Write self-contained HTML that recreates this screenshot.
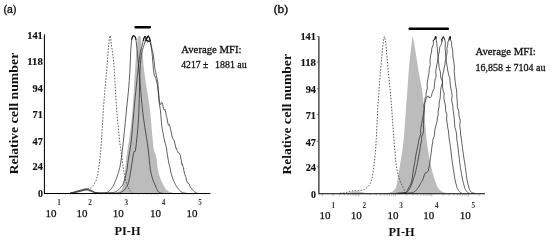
<!DOCTYPE html>
<html><head><meta charset="utf-8"><title>Figure</title>
<style>
html,body{margin:0;padding:0;background:#fff;}
svg{display:block;filter:blur(0.35px);}
text{font-family:"Liberation Serif",serif;fill:#111;}
.yl{font-size:10.8px;font-weight:bold;stroke:#111;stroke-width:0.15px;}
.yt{font-size:13.5px;font-weight:bold;}
.xl{font-size:11px;stroke:#111;stroke-width:0.25px;}
.xe{font-size:7.2px;font-weight:bold;fill:#333;}
.xt{font-size:12px;font-weight:bold;}
.an{font-size:10.8px;stroke:#111;stroke-width:0.3px;}
.lb{font-family:"Liberation Sans",sans-serif;font-size:10.4px;stroke:#111;stroke-width:0.35px;}
</style></head>
<body>
<svg width="550" height="241" viewBox="0 0 550 241">
<rect width="550" height="241" fill="#fff"/>
<path d="M108.0,193.4 L108.5,193.4 L109.0,193.4 L109.5,193.4 L110.0,193.3 L110.5,193.3 L111.0,193.3 L111.5,193.2 L112.0,193.2 L112.5,193.2 L113.0,193.1 L113.5,193.0 L114.0,193.0 L114.5,192.9 L115.1,192.8 L115.6,192.7 L116.1,192.6 L116.6,192.5 L117.1,192.3 L117.6,192.2 L118.1,192.0 L118.6,191.7 L119.1,191.4 L119.6,191.1 L120.1,190.7 L120.6,190.5 L121.1,190.3 L121.6,190.1 L122.1,189.2 L122.6,187.0 L123.1,184.3 L123.6,181.6 L124.1,178.3 L124.6,174.7 L125.1,170.6 L125.6,165.6 L126.1,160.2 L126.6,155.5 L127.1,152.2 L127.6,149.0 L128.1,145.6 L128.7,142.2 L129.2,138.8 L129.7,135.2 L130.2,131.4 L130.7,127.4 L131.2,123.1 L131.7,118.5 L132.2,113.5 L132.7,107.8 L133.2,100.5 L133.7,92.0 L134.2,83.1 L134.7,74.6 L135.2,67.2 L135.7,60.1 L136.2,53.5 L136.7,47.8 L137.2,43.0 L137.7,38.5 L138.2,36.1 L138.7,36.0 L139.2,36.0 L139.7,36.0 L140.2,36.0 L140.7,37.6 L141.2,41.8 L141.7,46.4 L142.3,51.3 L142.8,56.9 L143.3,62.6 L143.8,67.9 L144.3,72.2 L144.8,76.0 L145.3,79.6 L145.8,82.9 L146.3,86.0 L146.8,89.0 L147.3,91.9 L147.8,94.9 L148.3,98.0 L148.8,101.2 L149.3,104.7 L149.8,108.5 L150.3,112.7 L150.8,118.0 L151.3,123.8 L151.8,129.9 L152.3,135.9 L152.8,141.3 L153.3,145.9 L153.8,149.2 L154.3,151.2 L154.8,152.4 L155.3,153.6 L155.9,155.2 L156.4,158.0 L156.9,161.8 L157.4,165.8 L157.9,169.4 L158.4,172.0 L158.9,173.9 L159.4,175.6 L159.9,177.1 L160.4,178.5 L160.9,179.8 L161.4,181.0 L161.9,182.1 L162.4,183.1 L162.9,184.1 L163.4,185.1 L163.9,186.1 L164.4,187.0 L164.9,187.8 L165.4,188.6 L165.9,189.2 L166.4,189.8 L166.9,190.2 L167.4,190.5 L167.9,190.9 L168.4,191.2 L168.9,191.4 L169.5,191.7 L170.0,191.9 L170.5,192.1 L171.0,192.3 L171.5,192.4 L172.0,192.6 L172.5,192.7 L173.0,192.9 L173.5,193.0 L174.0,193.1 L174.5,193.2 L175.0,193.3 L175.5,193.4 L176.0,193.4Z" fill="#bcbcbc" stroke="none"/>
<path d="M70.0,193.3 L70.5,193.2 L71.0,193.1 L71.5,193.1 L72.0,193.0 L72.5,192.9 L73.0,192.8 L73.5,192.7 L74.0,192.6 L74.5,192.5 L75.0,192.4 L75.5,192.3 L76.0,192.2 L76.6,192.1 L77.1,191.9 L77.6,191.8 L78.1,191.7 L78.6,191.5 L79.1,191.4 L79.6,191.2 L80.1,191.1 L80.6,190.9 L81.1,190.7 L81.6,190.6 L82.1,190.4 L82.6,190.2 L83.1,190.1 L83.6,189.9 L84.1,189.8 L84.6,189.6 L85.1,189.5 L85.6,189.4 L86.1,189.2 L86.6,189.1 L87.1,189.0 L87.6,188.9 L88.1,188.8 L88.6,188.7 L89.2,188.5 L89.7,188.4 L90.2,188.2 L90.7,187.9 L91.2,187.5 L91.7,187.1 L92.2,186.6 L92.7,186.0 L93.2,185.4 L93.7,184.6 L94.2,183.8 L94.7,183.0 L95.2,182.2 L95.7,181.2 L96.2,180.1 L96.7,178.8 L97.2,177.0 L97.7,174.3 L98.2,171.2 L98.7,167.9 L99.2,164.3 L99.7,160.2 L100.2,155.7 L100.7,150.6 L101.2,144.2 L101.8,136.1 L102.3,127.1 L102.8,118.3 L103.3,110.5 L103.8,103.8 L104.3,97.6 L104.8,91.8 L105.3,86.1 L105.8,80.5 L106.3,74.8 L106.8,68.9 L107.3,62.5 L107.8,56.0 L108.3,50.0 L108.8,44.9 L109.3,39.8 L109.8,36.0 L110.3,35.7 L110.8,39.1 L111.3,43.8 L111.8,47.6 L112.3,50.9 L112.8,54.3 L113.3,58.5 L113.9,64.6 L114.4,72.4 L114.9,80.6 L115.4,89.3 L115.9,97.8 L116.4,105.6 L116.9,112.1 L117.4,118.1 L117.9,123.8 L118.4,129.2 L118.9,134.3 L119.4,139.0 L119.9,143.3 L120.4,147.2 L120.9,150.7 L121.4,153.3 L121.9,156.6 L122.4,161.0 L122.9,165.6 L123.4,169.1 L123.9,171.9 L124.4,174.5 L124.9,176.8 L125.4,178.9 L125.9,180.8 L126.5,182.5 L127.0,184.1 L127.5,185.5 L128.0,186.8 L128.5,188.0 L129.0,189.1 L129.5,190.0 L130.0,190.8 L130.5,191.4 L131.0,192.0 L131.5,192.5 L132.0,192.9 L132.5,193.2" fill="none" stroke="#444" stroke-width="0.9" stroke-dasharray="1.5 1.5"/>
<path d="M70.0,193.3 L70.5,193.2 L71.0,193.1 L71.5,193.0 L72.0,193.0 L72.5,192.9 L73.0,192.8 L73.5,192.7 L74.0,192.6 L74.5,192.5 L75.0,192.4 L75.5,192.3 L76.0,192.2 L76.5,192.2 L77.0,192.1 L77.5,192.0 L78.0,191.9 L78.5,191.8 L79.0,191.7 L79.6,191.6 L80.1,191.5 L80.6,191.3 L81.1,191.2 L81.6,191.1 L82.1,190.9 L82.6,190.8 L83.1,190.7 L83.6,190.6 L84.1,190.5 L84.6,190.4 L85.1,190.3 L85.6,190.2 L86.1,190.2 L86.6,190.2 L87.1,190.2 L87.6,190.3 L88.1,190.4 L88.6,190.6 L89.1,190.7 L89.6,190.9 L90.1,191.1 L90.6,191.3 L91.1,191.4 L91.6,191.6 L92.1,191.8 L92.6,192.0 L93.1,192.2 L93.6,192.4 L94.1,192.6 L94.6,192.7 L95.1,192.8 L95.6,192.9 L96.1,192.9 L96.6,193.0 L97.1,193.0 L97.6,193.1 L98.2,193.1 L98.7,193.1 L99.2,193.1 L99.7,193.1 L100.2,193.1 L100.7,193.1 L101.2,193.1 L101.7,193.1 L102.2,193.1 L102.7,193.0 L103.2,193.0 L103.7,193.0 L104.2,193.0 L104.7,192.9 L105.2,192.9 L105.7,192.9 L106.2,192.8 L106.7,192.6 L107.2,192.4 L107.7,192.1 L108.2,191.8 L108.7,191.4 L109.2,191.1 L109.7,190.6 L110.2,190.1 L110.7,189.5 L111.2,188.8 L111.7,188.1 L112.2,187.4 L112.7,186.6 L113.2,185.8 L113.7,184.9 L114.2,183.8 L114.7,182.8 L115.2,181.6 L115.7,180.4 L116.2,179.1 L116.8,177.6 L117.3,176.1 L117.8,174.5 L118.3,172.8 L118.8,171.1 L119.3,169.5 L119.8,167.5 L120.3,165.1 L120.8,161.9 L121.3,158.2 L121.8,154.4 L122.3,150.4 L122.8,146.1 L123.3,141.7 L123.8,137.1 L124.3,132.3 L124.8,127.4 L125.3,122.3 L125.8,117.2 L126.3,112.0 L126.8,106.9 L127.3,102.1 L127.8,97.3 L128.3,92.3 L128.8,86.7 L129.3,80.4 L129.8,72.9 L130.3,62.0 L130.8,49.6 L131.3,43.3 L131.8,39.2 L132.3,37.4 L132.8,36.2 L133.3,35.8 L133.8,35.9 L134.3,36.2 L134.8,36.6 L135.4,37.3 L135.9,39.3 L136.4,43.0 L136.9,48.2 L137.4,53.6 L137.9,58.5 L138.4,63.5 L138.9,68.6 L139.4,74.1 L139.9,80.0 L140.4,86.2 L140.9,92.4 L141.4,98.4 L141.9,104.0 L142.4,109.0 L142.9,113.3 L143.4,117.3 L143.9,120.9 L144.4,124.3 L144.9,127.6 L145.4,130.7 L145.9,133.8 L146.4,137.0 L146.9,140.2 L147.4,143.5 L147.9,147.1 L148.4,151.0 L148.9,155.6 L149.4,160.6 L149.9,165.4 L150.4,169.5 L150.9,172.3 L151.4,174.6 L151.9,176.5 L152.4,178.3 L152.9,179.8 L153.4,181.2 L154.0,182.5 L154.5,183.7 L155.0,184.9 L155.5,186.1 L156.0,187.2 L156.5,188.4 L157.0,189.5 L157.5,190.5 L158.0,191.3 L158.5,192.0 L159.0,192.4 L159.5,192.6 L160.0,192.8 L160.5,192.9 L161.0,193.1 L161.5,193.2 L162.0,193.2 L162.5,193.3 L163.0,193.3" fill="none" stroke="#2a2a2a" stroke-width="0.75" stroke-linejoin="round"/>
<path d="M70.0,193.3 L70.5,193.2 L71.0,193.0 L71.5,192.9 L72.0,192.8 L72.5,192.6 L73.0,192.5 L73.5,192.4 L74.0,192.3 L74.5,192.2 L75.0,192.0 L75.5,191.9 L76.0,191.8 L76.5,191.7 L77.0,191.6 L77.5,191.4 L78.0,191.3 L78.5,191.2 L79.0,191.1 L79.5,191.0 L80.0,190.8 L80.5,190.7 L81.0,190.5 L81.5,190.4 L82.1,190.2 L82.6,190.1 L83.1,189.9 L83.6,189.8 L84.1,189.7 L84.6,189.6 L85.1,189.5 L85.6,189.4 L86.1,189.4 L86.6,189.4 L87.1,189.4 L87.6,189.5 L88.1,189.7 L88.6,189.8 L89.1,190.0 L89.6,190.2 L90.1,190.4 L90.6,190.6 L91.1,190.8 L91.6,191.0 L92.1,191.3 L92.6,191.5 L93.1,191.8 L93.6,192.0 L94.1,192.2 L94.6,192.4 L95.1,192.5 L95.6,192.6 L96.1,192.7 L96.6,192.8 L97.1,192.8 L97.6,192.9 L98.1,192.9 L98.6,193.0 L99.1,193.0 L99.6,193.1 L100.1,193.1 L100.6,193.1 L101.1,193.1 L101.6,193.1 L102.1,193.1 L102.6,193.1 L103.1,193.1 L103.6,193.1 L104.1,193.1 L104.6,193.1 L105.2,193.0 L105.7,193.0 L106.2,193.0 L106.7,193.0 L107.2,193.0 L107.7,193.0 L108.2,193.0 L108.7,192.9 L109.2,192.9 L109.7,192.9 L110.2,192.8 L110.7,192.8 L111.2,192.8 L111.7,192.7 L112.2,192.6 L112.7,192.6 L113.2,192.5 L113.7,192.4 L114.2,192.3 L114.7,192.1 L115.2,191.9 L115.7,191.7 L116.2,191.4 L116.7,191.1 L117.2,190.8 L117.7,190.4 L118.2,190.1 L118.7,189.7 L119.2,189.2 L119.7,188.7 L120.2,188.2 L120.7,187.5 L121.2,186.7 L121.7,186.4 L122.2,185.7 L122.7,185.0 L123.2,183.6 L123.7,182.3 L124.2,180.8 L124.7,179.3 L125.2,177.6 L125.7,175.6 L126.2,173.5 L126.7,171.2 L127.2,168.1 L127.7,164.0 L128.2,160.6 L128.8,156.6 L129.3,153.7 L129.8,150.8 L130.3,148.0 L130.8,144.4 L131.3,139.9 L131.8,135.2 L132.3,129.8 L132.8,123.6 L133.3,118.0 L133.8,111.8 L134.3,107.0 L134.8,101.3 L135.3,96.4 L135.8,91.4 L136.3,86.4 L136.8,82.0 L137.3,76.4 L137.8,72.0 L138.3,67.3 L138.8,63.4 L139.3,59.2 L139.8,55.9 L140.3,52.7 L140.8,50.0 L141.3,48.4 L141.8,46.6 L142.3,45.1 L142.8,42.3 L143.3,40.3 L143.8,38.6 L144.3,37.5 L144.8,36.6 L145.3,36.6 L145.8,37.3 L146.3,38.6 L146.8,40.4 L147.3,42.2 L147.8,42.1 L148.3,41.9 L148.8,41.3 L149.3,41.0 L149.8,41.7 L150.3,43.2 L150.8,45.4 L151.3,47.8 L151.8,50.9 L152.4,56.4 L152.9,62.8 L153.4,69.5 L153.9,73.0 L154.4,75.8 L154.9,75.9 L155.4,77.4 L155.9,78.7 L156.4,80.9 L156.9,82.6 L157.4,85.2 L157.9,89.1 L158.4,94.0 L158.9,99.1 L159.4,103.6 L159.9,107.1 L160.4,110.3 L160.9,115.7 L161.4,122.3 L161.9,127.0 L162.4,129.7 L162.9,132.3 L163.4,134.7 L163.9,137.6 L164.4,140.1 L164.9,142.2 L165.4,143.8 L165.9,145.6 L166.4,147.6 L166.9,151.3 L167.4,154.7 L167.9,158.0 L168.4,160.6 L168.9,163.2 L169.4,165.4 L169.9,167.6 L170.4,169.9 L170.9,172.4 L171.4,174.5 L171.9,176.0 L172.4,177.5 L172.9,179.0 L173.4,180.4 L173.9,181.5 L174.4,182.3 L174.9,183.5 L175.5,184.5 L176.0,185.5 L176.5,186.2 L177.0,187.1 L177.5,187.9 L178.0,188.6 L178.5,189.2 L179.0,189.7 L179.5,190.3 L180.0,190.8 L180.5,191.2 L181.0,191.7 L181.5,192.0 L182.0,192.3 L182.5,192.5 L183.0,192.6 L183.5,192.8 L184.0,192.9 L184.5,193.0 L185.0,193.1 L185.5,193.2 L186.0,193.2 L186.5,193.3 L187.0,193.3" fill="none" stroke="#2a2a2a" stroke-width="0.75" stroke-linejoin="round"/>
<path d="M70.0,193.3 L70.5,193.1 L71.0,193.0 L71.5,192.8 L72.0,192.7 L72.5,192.5 L73.0,192.4 L73.5,192.2 L74.0,192.0 L74.5,191.9 L75.0,191.7 L75.5,191.6 L76.0,191.4 L76.5,191.2 L77.0,191.1 L77.5,190.9 L78.0,190.8 L78.5,190.6 L79.0,190.5 L79.5,190.4 L80.0,190.2 L80.5,190.1 L81.0,189.9 L81.5,189.8 L82.0,189.6 L82.5,189.5 L83.1,189.3 L83.6,189.2 L84.1,189.1 L84.6,189.0 L85.1,188.9 L85.6,188.8 L86.1,188.8 L86.6,188.8 L87.1,188.8 L87.6,188.9 L88.1,189.1 L88.6,189.3 L89.1,189.5 L89.6,189.7 L90.1,189.9 L90.6,190.1 L91.1,190.3 L91.6,190.6 L92.1,190.8 L92.6,191.1 L93.1,191.4 L93.6,191.7 L94.1,192.0 L94.6,192.2 L95.1,192.3 L95.6,192.4 L96.1,192.5 L96.6,192.6 L97.1,192.7 L97.6,192.8 L98.1,192.9 L98.6,192.9 L99.1,193.0 L99.6,193.0 L100.1,193.1 L100.6,193.1 L101.1,193.1 L101.6,193.1 L102.1,193.1 L102.6,193.1 L103.1,193.1 L103.6,193.1 L104.1,193.1 L104.6,193.1 L105.1,193.1 L105.6,193.1 L106.1,193.1 L106.6,193.1 L107.1,193.1 L107.6,193.1 L108.1,193.1 L108.7,193.1 L109.2,193.1 L109.7,193.1 L110.2,193.1 L110.7,193.1 L111.2,193.1 L111.7,193.1 L112.2,193.1 L112.7,193.1 L113.2,193.1 L113.7,193.1 L114.2,193.1 L114.7,193.1 L115.2,193.1 L115.7,193.1 L116.2,193.1 L116.7,193.1 L117.2,193.0 L117.7,193.0 L118.2,193.0 L118.7,193.0 L119.2,193.0 L119.7,192.9 L120.2,192.7 L120.7,192.5 L121.2,192.3 L121.7,191.9 L122.2,191.6 L122.7,191.2 L123.2,190.9 L123.7,190.5 L124.2,190.0 L124.7,189.5 L125.2,188.9 L125.7,188.2 L126.2,187.3 L126.7,186.7 L127.2,185.8 L127.7,185.1 L128.2,183.2 L128.7,181.7 L129.2,179.2 L129.7,177.5 L130.2,174.0 L130.7,170.9 L131.2,167.8 L131.7,164.7 L132.2,161.8 L132.7,158.3 L133.2,154.9 L133.7,152.7 L134.3,151.2 L134.8,151.7 L135.3,150.8 L135.8,148.0 L136.3,143.7 L136.8,138.8 L137.3,134.1 L137.8,128.6 L138.3,121.9 L138.8,112.8 L139.3,98.4 L139.8,75.2 L140.3,64.3 L140.8,59.5 L141.3,55.4 L141.8,53.1 L142.3,50.4 L142.8,49.0 L143.3,47.4 L143.8,45.8 L144.3,44.0 L144.8,42.8 L145.3,40.8 L145.8,40.1 L146.3,38.7 L146.8,38.4 L147.3,37.2 L147.8,36.3 L148.3,36.0 L148.8,37.1 L149.3,37.5 L149.8,39.3 L150.3,40.8 L150.8,42.5 L151.3,45.8 L151.8,48.2 L152.3,50.4 L152.8,52.2 L153.3,54.4 L153.8,59.2 L154.3,63.1 L154.8,67.7 L155.3,70.7 L155.8,72.5 L156.3,75.7 L156.8,77.3 L157.3,79.5 L157.8,82.6 L158.3,88.9 L158.8,95.2 L159.3,101.2 L159.9,104.0 L160.4,104.6 L160.9,104.1 L161.4,102.6 L161.9,103.1 L162.4,103.0 L162.9,105.9 L163.4,108.2 L163.9,109.6 L164.4,109.9 L164.9,109.2 L165.4,111.0 L165.9,113.2 L166.4,116.6 L166.9,117.6 L167.4,120.8 L167.9,123.1 L168.4,125.3 L168.9,124.6 L169.4,124.7 L169.9,126.5 L170.4,128.5 L170.9,130.8 L171.4,133.0 L171.9,135.8 L172.4,137.9 L172.9,138.8 L173.4,139.6 L173.9,139.9 L174.4,141.1 L174.9,143.8 L175.4,145.2 L175.9,148.6 L176.4,148.2 L176.9,150.0 L177.4,150.6 L177.9,151.9 L178.4,152.9 L178.9,152.8 L179.4,153.4 L179.9,154.2 L180.4,155.4 L180.9,158.7 L181.4,160.9 L181.9,164.6 L182.4,164.2 L182.9,166.4 L183.4,167.6 L183.9,170.7 L184.4,173.0 L184.9,174.7 L185.5,176.4 L186.0,177.6 L186.5,180.1 L187.0,181.6 L187.5,182.8 L188.0,182.6 L188.5,183.6 L189.0,183.9 L189.5,184.8 L190.0,186.3 L190.5,187.7 L191.0,188.5 L191.5,188.8 L192.0,188.7 L192.5,189.4 L193.0,190.1 L193.5,190.8 L194.0,191.4 L194.5,191.8 L195.0,192.1 L195.5,192.4 L196.0,192.7 L196.5,192.9 L197.0,193.1 L197.5,193.3 L198.0,193.3" fill="none" stroke="#2a2a2a" stroke-width="0.75" stroke-linejoin="round"/>
<path d="M131.8,39.2 L132.3,37.4 L132.8,36.2 L133.3,35.8 L133.8,35.9 L134.3,36.2 L134.8,36.6 L135.4,37.3 L135.9,39.3" fill="none" stroke="#1a1a1a" stroke-width="1.25" stroke-linejoin="round" stroke-linecap="round"/>
<path d="M143.3,40.3 L143.8,38.6 L144.3,37.5 L144.8,36.6 L145.3,36.6 L145.8,37.3 L146.3,38.6 L146.8,40.4 L148.8,41.3 L149.3,41.0" fill="none" stroke="#1a1a1a" stroke-width="1.25" stroke-linejoin="round" stroke-linecap="round"/>
<path d="M145.3,40.8 L145.8,40.1 L146.3,38.7 L146.8,38.4 L147.3,37.2 L147.8,36.3 L148.3,36.0 L148.8,37.1 L149.3,37.5 L149.8,39.3 L150.3,40.8" fill="none" stroke="#1a1a1a" stroke-width="1.25" stroke-linejoin="round" stroke-linecap="round"/>
<path d="M44.4,34.4 V193.4 H210.4" fill="none" stroke="#000" stroke-width="1.05"/>
<path d="M47.8,193.9 v2.2 M58.8,193.9 v1.5 M65.2,193.9 v1.5 M69.8,193.9 v1.5 M73.3,193.9 v1.5 M76.2,193.9 v1.5 M78.6,193.9 v1.5 M80.8,193.9 v1.5 M82.6,193.9 v1.5 M84.3,193.9 v2.2 M95.3,193.9 v1.5 M101.7,193.9 v1.5 M106.3,193.9 v1.5 M109.8,193.9 v1.5 M112.7,193.9 v1.5 M115.1,193.9 v1.5 M117.3,193.9 v1.5 M119.1,193.9 v1.5 M120.8,193.9 v2.2 M131.8,193.9 v1.5 M138.2,193.9 v1.5 M142.8,193.9 v1.5 M146.3,193.9 v1.5 M149.2,193.9 v1.5 M151.6,193.9 v1.5 M153.8,193.9 v1.5 M155.6,193.9 v1.5 M157.3,193.9 v2.2 M168.3,193.9 v1.5 M174.7,193.9 v1.5 M179.3,193.9 v1.5 M182.8,193.9 v1.5 M185.7,193.9 v1.5 M188.1,193.9 v1.5 M190.3,193.9 v1.5 M192.1,193.9 v1.5 M193.8,193.9 v2.2 M204.8,193.9 v1.5" stroke="#bbb" stroke-width="0.5" fill="none"/>
<rect x="134.4" y="25.9" width="16.599999999999994" height="2.6" rx="1" fill="#000"/>
<text x="27.2" y="38.9" textLength="15.6" lengthAdjust="spacingAndGlyphs" class="yl">141</text>
<text x="27.2" y="64.7" textLength="15.6" lengthAdjust="spacingAndGlyphs" class="yl">118</text>
<text x="32.6" y="91.7" textLength="10.3" lengthAdjust="spacingAndGlyphs" class="yl">94</text>
<text x="32.6" y="117.5" textLength="10.3" lengthAdjust="spacingAndGlyphs" class="yl">71</text>
<text x="32.6" y="144.5" textLength="10.3" lengthAdjust="spacingAndGlyphs" class="yl">47</text>
<text x="32.6" y="170.3" textLength="10.3" lengthAdjust="spacingAndGlyphs" class="yl">24</text>
<text x="38.0" y="197.3" textLength="4.9" lengthAdjust="spacingAndGlyphs" class="yl">0</text>
<text transform="translate(18.0,174.3) rotate(-90)" class="yt"><tspan x="0.0" textLength="47.4" lengthAdjust="spacingAndGlyphs">Relative</tspan><tspan x="50.7" textLength="20.9" lengthAdjust="spacingAndGlyphs">cell</tspan><tspan x="74.8" textLength="46.8" lengthAdjust="spacingAndGlyphs">number</tspan></text>
<text x="51.0" y="216.6" text-anchor="middle" class="xl">10</text>
<text x="59.1" y="204.7" text-anchor="middle" class="xe">1</text>
<text x="81.9" y="216.6" text-anchor="middle" class="xl">10</text>
<text x="90.0" y="204.7" text-anchor="middle" class="xe">2</text>
<text x="118.2" y="216.6" text-anchor="middle" class="xl">10</text>
<text x="126.3" y="204.7" text-anchor="middle" class="xe">3</text>
<text x="155.4" y="216.6" text-anchor="middle" class="xl">10</text>
<text x="163.5" y="204.7" text-anchor="middle" class="xe">4</text>
<text x="191.9" y="216.6" text-anchor="middle" class="xl">10</text>
<text x="200.0" y="204.7" text-anchor="middle" class="xe">5</text>
<text x="114.5" y="234.8" textLength="26" lengthAdjust="spacingAndGlyphs" class="xt">PI-H</text>
<text x="181.3" y="53" textLength="60.3" lengthAdjust="spacingAndGlyphs" class="an">Average MFI:</text>
<text x="181.3" y="68.3" textLength="27" lengthAdjust="spacingAndGlyphs" class="an">4217 ±</text><text x="215" y="68.3" textLength="31.7" lengthAdjust="spacingAndGlyphs" class="an">1881 au</text>
<text x="3.6" y="13.3" textLength="12.8" lengthAdjust="spacingAndGlyphs" class="lb">(a)</text>
<path d="M342.0,193.4 L342.5,193.4 L343.0,193.4 L343.5,193.4 L344.0,193.4 L344.5,193.4 L345.0,193.3 L345.5,193.2 L346.0,193.1 L346.5,193.1 L347.0,193.0 L347.5,192.9 L348.0,192.8 L348.5,192.7 L349.0,192.6 L349.5,192.5 L350.0,192.4 L350.5,192.2 L351.0,192.1 L351.5,191.9 L352.0,191.8 L352.5,191.6 L353.1,191.5 L353.6,191.4 L354.1,191.4 L354.6,191.4 L355.1,191.3 L355.6,191.3 L356.1,191.3 L356.6,191.2 L357.1,191.2 L357.6,191.2 L358.1,191.2 L358.6,191.2 L359.1,191.3 L359.6,191.4 L360.1,191.6 L360.6,191.7 L361.1,191.9 L361.6,192.0 L362.1,192.1 L362.6,192.2 L363.1,192.4 L363.6,192.5 L364.1,192.7 L364.6,192.8 L365.1,192.9 L365.6,193.0 L366.1,193.0 L366.6,193.0 L367.1,193.1 L367.6,193.1 L368.1,193.1 L368.6,193.1 L369.1,193.2 L369.6,193.2 L370.1,193.2 L370.6,193.2 L371.1,193.2 L371.6,193.3 L372.1,193.3 L372.6,193.3 L373.1,193.3 L373.6,193.3 L374.2,193.3 L374.7,193.3 L375.2,193.3 L375.7,193.3 L376.2,193.3 L376.7,193.3 L377.2,193.3 L377.7,193.3 L378.2,193.3 L378.7,193.3 L379.2,193.3 L379.7,193.3 L380.2,193.3 L380.7,193.2 L381.2,193.2 L381.7,193.2 L382.2,193.2 L382.7,193.2 L383.2,193.2 L383.7,193.2 L384.2,193.2 L384.7,193.1 L385.2,193.1 L385.7,193.1 L386.2,193.1 L386.7,193.1 L387.2,193.0 L387.7,192.9 L388.2,192.9 L388.7,192.8 L389.2,192.6 L389.7,192.5 L390.2,192.4 L390.7,192.2 L391.2,192.1 L391.7,191.9 L392.2,191.7 L392.7,191.4 L393.2,191.0 L393.7,190.5 L394.2,190.1 L394.7,189.5 L395.3,188.8 L395.8,187.8 L396.3,186.6 L396.8,184.4 L397.3,181.3 L397.8,177.8 L398.3,174.6 L398.8,171.8 L399.3,168.9 L399.8,166.1 L400.3,163.2 L400.8,160.1 L401.3,157.1 L401.8,154.0 L402.3,150.8 L402.8,147.2 L403.3,143.1 L403.8,137.9 L404.3,131.7 L404.8,124.8 L405.3,117.9 L405.8,111.5 L406.3,105.1 L406.8,98.6 L407.3,91.4 L407.8,84.0 L408.3,76.7 L408.8,70.1 L409.3,64.6 L409.8,59.4 L410.3,54.7 L410.8,50.4 L411.3,46.3 L411.8,42.3 L412.3,38.2 L412.8,36.5 L413.3,37.9 L413.8,40.8 L414.3,44.1 L414.8,47.0 L415.3,50.1 L415.8,53.4 L416.4,56.9 L416.9,60.4 L417.4,63.8 L417.9,67.1 L418.4,70.2 L418.9,73.0 L419.4,75.7 L419.9,78.3 L420.4,80.8 L420.9,83.5 L421.4,86.3 L421.9,89.3 L422.4,92.7 L422.9,96.5 L423.4,100.8 L423.9,107.1 L424.4,113.9 L424.9,120.0 L425.4,126.2 L425.9,132.2 L426.4,137.7 L426.9,142.2 L427.4,145.9 L427.9,149.4 L428.4,152.5 L428.9,155.4 L429.4,158.2 L429.9,160.7 L430.4,163.1 L430.9,165.4 L431.4,167.6 L431.9,169.7 L432.4,171.7 L432.9,173.7 L433.4,175.5 L433.9,177.3 L434.4,178.9 L434.9,180.3 L435.4,181.7 L435.9,183.1 L436.4,184.5 L436.9,185.7 L437.5,186.9 L438.0,187.8 L438.5,188.6 L439.0,189.2 L439.5,189.7 L440.0,190.2 L440.5,190.6 L441.0,191.0 L441.5,191.3 L442.0,191.6 L442.5,191.9 L443.0,192.1 L443.5,192.3 L444.0,192.5 L444.5,192.6 L445.0,192.8 L445.5,193.0 L446.0,193.1 L446.5,193.2 L447.0,193.3 L447.5,193.4 L448.0,193.4Z" fill="#bcbcbc" stroke="none"/>
<path d="M340.0,193.2 L340.5,193.2 L341.0,193.2 L341.5,193.2 L342.0,193.1 L342.5,193.1 L343.0,193.0 L343.5,193.0 L344.0,192.9 L344.5,192.9 L345.0,192.8 L345.6,192.7 L346.1,192.6 L346.6,192.4 L347.1,192.3 L347.6,192.1 L348.1,191.9 L348.6,191.8 L349.1,191.6 L349.6,191.5 L350.1,191.4 L350.6,191.3 L351.1,191.2 L351.6,191.1 L352.1,191.0 L352.6,190.9 L353.1,190.8 L353.6,190.7 L354.1,190.7 L354.6,190.6 L355.1,190.6 L355.6,190.6 L356.1,190.6 L356.7,190.6 L357.2,190.5 L357.7,190.5 L358.2,190.5 L358.7,190.5 L359.2,190.5 L359.7,190.5 L360.2,190.4 L360.7,190.4 L361.2,190.4 L361.7,190.3 L362.2,190.3 L362.7,190.2 L363.2,190.0 L363.7,189.8 L364.2,189.6 L364.7,189.2 L365.2,188.9 L365.7,188.5 L366.2,188.1 L366.7,187.7 L367.2,187.3 L367.8,186.9 L368.3,186.4 L368.8,185.8 L369.3,185.1 L369.8,184.3 L370.3,183.3 L370.8,182.2 L371.3,180.8 L371.8,179.1 L372.3,176.8 L372.8,174.0 L373.3,170.4 L373.8,166.3 L374.3,162.3 L374.8,158.0 L375.3,153.1 L375.8,147.0 L376.3,138.5 L376.8,128.4 L377.3,117.8 L377.8,107.7 L378.4,99.2 L378.9,92.0 L379.4,85.1 L379.9,78.7 L380.4,72.6 L380.9,66.9 L381.4,61.3 L381.9,55.8 L382.4,50.4 L382.9,45.4 L383.4,41.3 L383.9,38.2 L384.4,36.5 L384.9,37.9 L385.4,40.7 L385.9,44.5 L386.4,49.7 L386.9,55.5 L387.4,61.6 L387.9,67.3 L388.4,72.6 L388.9,77.8 L389.5,83.0 L390.0,88.3 L390.5,93.8 L391.0,99.6 L391.5,105.9 L392.0,112.7 L392.5,119.8 L393.0,126.9 L393.5,133.7 L394.0,139.9 L394.5,145.9 L395.0,152.0 L395.5,157.8 L396.0,162.8 L396.5,166.9 L397.0,169.7 L397.5,172.1 L398.0,174.2 L398.5,176.0 L399.0,177.7 L399.5,179.2 L400.0,180.6 L400.6,182.0 L401.1,183.2 L401.6,184.4 L402.1,185.4 L402.6,186.5 L403.1,187.5 L403.6,188.6 L404.1,189.8 L404.6,190.9 L405.1,192.1 L405.6,193.2" fill="none" stroke="#444" stroke-width="0.9" stroke-dasharray="1.5 1.5"/>
<path d="M396.0,193.3 L396.5,193.3 L397.0,193.3 L397.5,193.2 L398.0,193.2 L398.5,193.2 L399.0,193.1 L399.5,193.1 L400.0,193.1 L400.5,193.0 L401.0,193.0 L401.5,193.0 L402.0,192.9 L402.5,192.9 L403.1,192.9 L403.6,192.8 L404.1,192.7 L404.6,192.7 L405.1,192.6 L405.6,192.4 L406.1,191.9 L406.6,191.4 L407.1,190.7 L407.6,189.9 L408.1,189.1 L408.6,188.0 L409.1,187.2 L409.6,186.4 L410.1,185.5 L410.6,184.3 L411.1,182.7 L411.6,181.1 L412.1,179.0 L412.6,176.0 L413.1,172.0 L413.6,168.5 L414.1,165.9 L414.6,163.5 L415.1,160.5 L415.6,156.8 L416.2,153.5 L416.7,151.4 L417.2,149.0 L417.7,146.3 L418.5,142.9 L418.6,141.1 L419.2,138.8 L419.9,136.5 L420.8,133.3 L420.5,130.5 L421.0,127.1 L421.6,123.9 L422.2,120.8 L422.6,118.2 L423.4,114.8 L424.0,109.8 L423.9,104.4 L425.3,101.3 L424.9,98.5 L425.9,96.4 L426.3,92.2 L427.4,88.0 L427.1,83.7 L427.8,79.4 L428.4,76.0 L429.1,72.4 L429.2,69.4 L430.3,64.6 L430.0,60.0 L430.5,55.8 L431.3,53.2 L431.6,50.8 L431.9,48.1 L433.2,44.8 L433.6,42.3 L433.1,40.6 L434.6,39.3 L435.2,38.0 L435.0,36.8 L436.2,36.8 L435.9,38.8 L436.7,42.2 L437.3,48.5 L438.0,56.2 L438.4,60.6 L438.9,64.5 L439.1,67.8 L440.3,71.5 L440.5,74.6 L440.7,77.1 L441.2,79.0 L442.3,80.8 L442.5,83.7 L442.6,87.0 L443.2,90.6 L444.2,94.1 L443.8,97.6 L444.6,102.0 L445.6,105.8 L445.5,110.7 L446.9,114.6 L446.6,119.1 L447.0,122.2 L447.5,126.4 L448.4,130.7 L448.8,135.0 L449.2,139.0 L449.9,142.8 L450.4,146.6 L450.9,150.9 L451.4,155.2 L451.9,159.3 L452.4,163.1 L452.9,166.1 L453.4,169.7 L453.9,172.4 L454.4,176.1 L454.9,179.1 L455.5,182.0 L456.0,183.8 L456.5,185.6 L457.0,187.5 L457.5,188.7 L458.0,189.6 L458.5,190.5 L459.0,191.1 L459.5,191.7 L460.0,192.2 L460.5,192.7 L461.0,193.0 L461.5,193.2 L462.0,193.3" fill="none" stroke="#2a2a2a" stroke-width="0.75" stroke-linejoin="round"/>
<path d="M398.0,193.3 L398.5,193.3 L399.0,193.3 L399.5,193.3 L400.0,193.2 L400.5,193.2 L401.0,193.2 L401.5,193.1 L402.0,193.1 L402.5,193.0 L403.0,193.0 L403.5,193.0 L404.0,192.9 L404.5,192.8 L405.0,192.8 L405.6,192.7 L406.1,192.6 L406.6,192.4 L407.1,192.0 L407.6,191.5 L408.1,190.9 L408.6,190.2 L409.1,189.5 L409.6,188.7 L410.1,187.7 L410.6,186.7 L411.1,185.4 L411.6,184.1 L412.1,182.9 L412.6,181.9 L413.1,180.1 L413.6,178.6 L414.1,176.7 L414.6,175.7 L415.1,174.0 L415.6,171.9 L416.1,169.5 L416.6,167.3 L417.1,165.1 L417.6,162.6 L418.1,159.2 L418.6,156.8 L419.1,153.9 L419.7,151.1 L420.2,147.5 L420.9,143.7 L421.5,140.7 L421.6,138.2 L421.8,136.2 L423.0,133.6 L423.6,129.8 L423.4,124.4 L423.8,117.7 L424.9,102.2 L425.2,100.3 L425.8,99.4 L425.9,98.6 L427.0,97.7 L426.8,96.8 L428.2,96.0 L428.1,96.2 L428.7,96.3 L429.2,97.0 L429.1,98.0 L429.7,97.6 L430.3,97.7 L431.1,96.7 L431.7,95.1 L432.1,93.2 L432.6,91.6 L433.4,89.7 L434.1,88.5 L434.3,86.1 L434.4,84.4 L435.0,80.0 L436.1,76.2 L435.7,71.4 L436.4,67.0 L437.3,62.7 L437.9,58.7 L438.2,56.6 L438.7,54.2 L439.4,51.5 L439.5,48.6 L440.0,46.5 L441.2,44.8 L441.5,43.1 L442.0,41.1 L441.9,39.1 L442.7,37.7 L443.4,36.7 L443.6,37.3 L444.5,39.1 L445.4,42.3 L445.1,48.4 L445.8,56.5 L446.3,61.2 L446.7,64.2 L447.4,67.8 L447.7,70.3 L448.4,73.3 L448.8,75.5 L449.7,77.7 L450.1,81.6 L450.3,85.1 L450.9,88.7 L451.6,91.6 L452.2,95.5 L451.6,100.3 L452.8,105.6 L453.2,110.6 L453.9,115.1 L454.3,119.4 L454.6,123.6 L454.9,127.6 L456.1,131.2 L456.7,136.0 L456.8,139.6 L457.5,143.4 L457.9,146.6 L458.4,151.0 L458.9,155.3 L459.4,159.4 L459.9,163.6 L460.4,167.3 L460.9,170.3 L461.4,173.4 L461.9,176.0 L462.5,179.0 L463.0,181.4 L463.5,183.6 L464.0,185.5 L464.5,187.1 L465.0,188.7 L465.5,189.6 L466.0,190.5 L466.5,191.1 L467.0,191.7 L467.5,192.2 L468.0,192.7 L468.5,193.0 L469.0,193.2 L469.5,193.3" fill="none" stroke="#2a2a2a" stroke-width="0.75" stroke-linejoin="round"/>
<path d="M404.0,193.3 L404.5,193.3 L405.0,193.2 L405.5,193.2 L406.0,193.2 L406.5,193.2 L407.0,193.1 L407.5,193.1 L408.0,193.1 L408.5,193.0 L409.0,193.0 L409.5,193.0 L410.0,192.9 L410.5,192.9 L411.0,192.9 L411.6,192.8 L412.1,192.8 L412.6,192.7 L413.1,192.5 L413.6,192.2 L414.1,191.9 L414.6,191.6 L415.1,191.3 L415.6,190.8 L416.1,190.2 L416.6,189.6 L417.1,189.0 L417.6,188.2 L418.1,187.6 L418.6,187.2 L419.1,186.4 L419.6,185.5 L420.1,184.4 L420.6,183.4 L421.1,182.5 L421.6,181.6 L422.1,181.1 L422.6,180.2 L423.1,178.8 L423.6,177.1 L424.1,175.6 L424.6,174.3 L425.1,173.3 L425.7,172.8 L426.2,172.7 L426.7,172.6 L427.2,172.0 L427.7,171.7 L428.2,171.0 L428.7,168.8 L429.2,166.3 L429.7,163.2 L430.2,160.1 L430.7,156.2 L431.2,152.8 L431.7,148.5 L432.1,145.4 L432.8,141.5 L432.9,139.5 L433.8,137.3 L434.4,135.2 L434.6,132.9 L434.9,129.6 L435.5,127.0 L436.5,123.7 L437.2,120.6 L437.4,117.6 L438.2,114.8 L438.2,111.0 L439.0,107.1 L439.2,102.0 L440.1,98.7 L440.4,94.4 L440.6,90.8 L441.2,86.8 L442.3,83.5 L442.5,79.6 L442.4,76.9 L443.1,73.4 L443.7,71.0 L444.1,67.9 L444.9,65.2 L445.0,62.3 L445.8,59.4 L446.3,56.4 L447.1,52.7 L446.9,48.2 L447.8,44.8 L447.8,42.1 L449.0,40.1 L449.4,37.8 L449.8,36.5 L450.5,36.8 L450.3,39.2 L451.5,42.2 L451.7,46.0 L452.8,51.0 L452.9,56.7 L453.9,62.2 L454.4,66.9 L454.2,71.3 L454.7,76.3 L455.2,82.2 L456.0,87.3 L456.8,92.0 L456.7,96.3 L457.3,101.5 L457.3,106.7 L458.8,111.7 L459.0,116.1 L460.3,120.6 L459.7,125.7 L460.4,130.2 L460.7,135.0 L461.5,139.3 L461.9,143.8 L462.4,147.3 L462.9,151.2 L463.4,154.5 L463.9,158.3 L464.4,161.2 L464.9,164.3 L465.4,167.7 L465.9,171.4 L466.4,175.4 L466.9,178.9 L467.4,181.7 L468.0,184.0 L468.5,186.1 L469.0,188.2 L469.5,189.4 L470.0,190.4 L470.5,191.2 L471.0,191.9 L471.5,192.4 L472.0,192.6 L472.5,192.8 L473.0,193.0 L473.5,193.1 L474.0,193.2 L474.5,193.3 L475.0,193.3" fill="none" stroke="#2a2a2a" stroke-width="0.75" stroke-linejoin="round"/>
<path d="M433.1,40.6 L434.6,39.3 L435.2,38.0 L435.0,36.8 L436.2,36.8 L435.9,38.8" fill="none" stroke="#1a1a1a" stroke-width="0.95" stroke-linejoin="round" stroke-linecap="round"/>
<path d="M442.0,41.1 L441.9,39.1 L442.7,37.7 L443.4,36.7 L443.6,37.3 L444.5,39.1" fill="none" stroke="#1a1a1a" stroke-width="0.95" stroke-linejoin="round" stroke-linecap="round"/>
<path d="M449.0,40.1 L449.4,37.8 L449.8,36.5 L450.5,36.8 L450.3,39.2" fill="none" stroke="#1a1a1a" stroke-width="0.95" stroke-linejoin="round" stroke-linecap="round"/>
<path d="M318.9,36.4 V193.7 H484.9" fill="none" stroke="#000" stroke-width="1.05"/>
<path d="M322.3,194.2 v2.2 M333.3,194.2 v1.5 M339.7,194.2 v1.5 M344.3,194.2 v1.5 M347.8,194.2 v1.5 M350.7,194.2 v1.5 M353.1,194.2 v1.5 M355.3,194.2 v1.5 M357.1,194.2 v1.5 M358.8,194.2 v2.2 M369.8,194.2 v1.5 M376.2,194.2 v1.5 M380.8,194.2 v1.5 M384.3,194.2 v1.5 M387.2,194.2 v1.5 M389.6,194.2 v1.5 M391.8,194.2 v1.5 M393.6,194.2 v1.5 M395.3,194.2 v2.2 M406.3,194.2 v1.5 M412.7,194.2 v1.5 M417.3,194.2 v1.5 M420.8,194.2 v1.5 M423.7,194.2 v1.5 M426.1,194.2 v1.5 M428.3,194.2 v1.5 M430.1,194.2 v1.5 M431.8,194.2 v2.2 M442.8,194.2 v1.5 M449.2,194.2 v1.5 M453.8,194.2 v1.5 M457.3,194.2 v1.5 M460.2,194.2 v1.5 M462.6,194.2 v1.5 M464.8,194.2 v1.5 M466.6,194.2 v1.5 M468.3,194.2 v2.2 M479.3,194.2 v1.5" stroke="#666" stroke-width="0.5" fill="none"/>
<path d="M318.9,36.4 h-2.2 M318.9,62.1 h-2.2 M318.9,88.8 h-2.2 M318.9,114.5 h-2.2 M318.9,141.3 h-2.2 M318.9,166.9 h-2.2" stroke="#333" stroke-width="0.6" fill="none"/>
<rect x="408.5" y="27.5" width="40.5" height="2.6" rx="1" fill="#000"/>
<text x="300.4" y="39.9" textLength="15.6" lengthAdjust="spacingAndGlyphs" class="yl">141</text>
<text x="300.4" y="65.7" textLength="15.6" lengthAdjust="spacingAndGlyphs" class="yl">118</text>
<text x="305.7" y="92.7" textLength="10.3" lengthAdjust="spacingAndGlyphs" class="yl">94</text>
<text x="305.7" y="118.5" textLength="10.3" lengthAdjust="spacingAndGlyphs" class="yl">71</text>
<text x="305.7" y="145.5" textLength="10.3" lengthAdjust="spacingAndGlyphs" class="yl">47</text>
<text x="305.7" y="171.3" textLength="10.3" lengthAdjust="spacingAndGlyphs" class="yl">24</text>
<text x="311.1" y="197.6" textLength="4.9" lengthAdjust="spacingAndGlyphs" class="yl">0</text>
<text transform="translate(291.2,174.4) rotate(-90)" class="yt"><tspan x="0.0" textLength="46.9" lengthAdjust="spacingAndGlyphs">Relative</tspan><tspan x="50.2" textLength="20.7" lengthAdjust="spacingAndGlyphs">cell</tspan><tspan x="74.1" textLength="46.3" lengthAdjust="spacingAndGlyphs">number</tspan></text>
<text x="325.1" y="219.0" text-anchor="middle" class="xl">10</text>
<text x="333.2" y="207.7" text-anchor="middle" class="xe">1</text>
<text x="356.2" y="219.0" text-anchor="middle" class="xl">10</text>
<text x="364.3" y="207.7" text-anchor="middle" class="xe">2</text>
<text x="393.0" y="219.0" text-anchor="middle" class="xl">10</text>
<text x="401.1" y="207.7" text-anchor="middle" class="xe">3</text>
<text x="428.8" y="219.0" text-anchor="middle" class="xl">10</text>
<text x="436.9" y="207.7" text-anchor="middle" class="xe">4</text>
<text x="465.3" y="219.0" text-anchor="middle" class="xl">10</text>
<text x="473.4" y="207.7" text-anchor="middle" class="xe">5</text>
<text x="388.6" y="236.0" textLength="26" lengthAdjust="spacingAndGlyphs" class="xt">PI-H</text>
<text x="475.5" y="54.7" textLength="60.3" lengthAdjust="spacingAndGlyphs" class="an">Average MFI:</text>
<text x="475.5" y="70.8" textLength="70" lengthAdjust="spacingAndGlyphs" class="an">16,858 ± 7104 au</text>
<text x="273.6" y="13.3" textLength="14.6" lengthAdjust="spacingAndGlyphs" class="lb">(b)</text>
</svg>
</body></html>
